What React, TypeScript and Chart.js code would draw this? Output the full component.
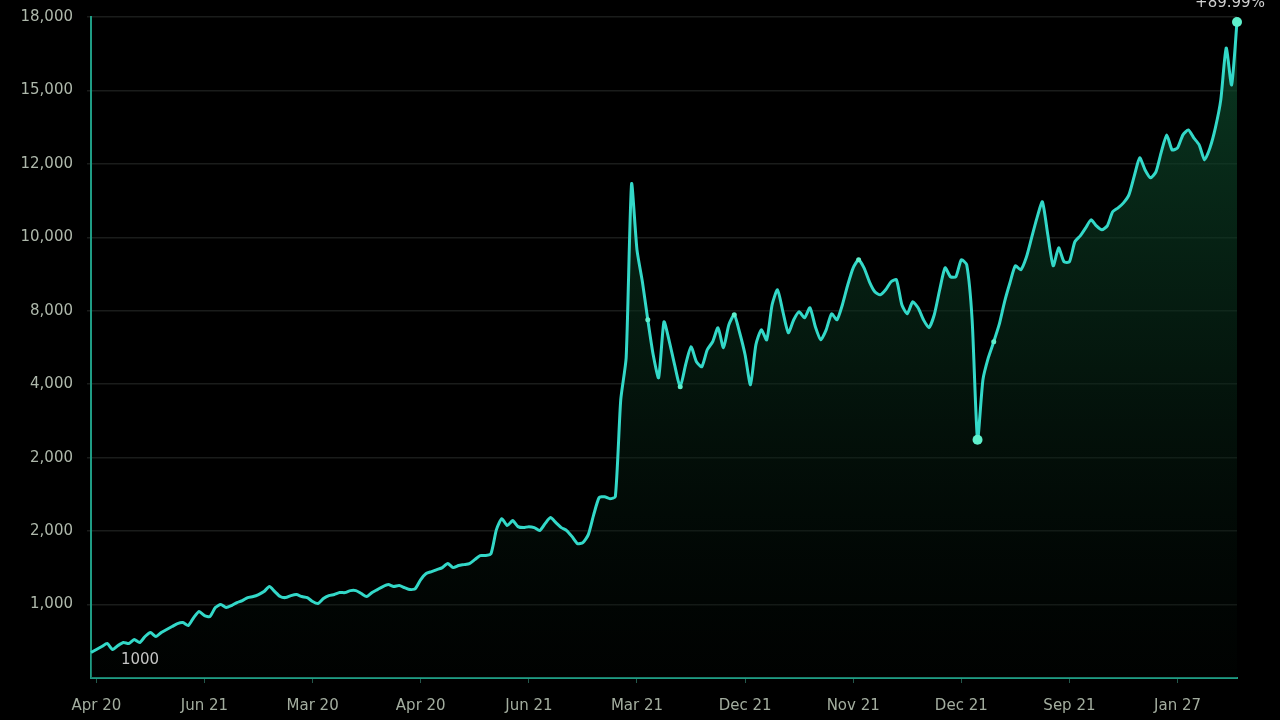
import React, { useEffect, useRef } from "react";
import { Chart, registerables } from "chart.js";

Chart.register(...registerables);

// Tick labels as printed on the chart (y levels 1..9 bottom to top)
const yTickLabels = ["1,000", "2,000", "2,000", "4,000", "8,000", "10,000", "12,000", "15,000", "18,000"];
const yTickLevels = [1, 2, 3, 4, 5, 6, 7, 8, 9];

const xTickLabels = ["Apr 20", "Jun 21", "Mar 20", "Apr 20", "Jun 21", "Mar 21", "Dec 21", "Nov 21", "Dec 21", "Sep 21", "Jan 27"];
const xTickIndex = [1, 21, 41, 61, 81, 101, 121, 141, 161, 181, 201];

// Series values (in axis level units), one per period
const seriesValues = [
  0.347, 0.388, 0.429, 0.469, 0.388, 0.442, 0.483, 0.469, 0.524, 0.483,
  0.565, 0.619, 0.565, 0.619, 0.66, 0.701, 0.741, 0.755, 0.714, 0.823,
  0.905, 0.85, 0.837, 0.959, 1.0, 0.959, 0.986, 1.027, 1.054, 1.095,
  1.109, 1.136, 1.177, 1.245, 1.177, 1.109, 1.095, 1.122, 1.136, 1.109,
  1.095, 1.041, 1.014, 1.082, 1.122, 1.136, 1.163, 1.163, 1.19, 1.19,
  1.15, 1.109, 1.163, 1.204, 1.245, 1.272, 1.245, 1.259, 1.231, 1.204,
  1.218, 1.34, 1.422, 1.449, 1.476, 1.503, 1.558, 1.503, 1.531, 1.544,
  1.558, 1.612, 1.667, 1.667, 1.694, 2.02, 2.17, 2.075, 2.143, 2.061,
  2.048, 2.061, 2.048, 2.007, 2.102, 2.184, 2.116, 2.048, 2.007, 1.925,
  1.83, 1.844, 1.952, 2.224, 2.456, 2.469, 2.442, 2.469, 3.789, 4.361,
  6.728, 5.83, 5.395, 4.878, 4.401, 4.088, 4.85, 4.578, 4.252, 3.966,
  4.265, 4.51, 4.306, 4.238, 4.469, 4.578, 4.769, 4.497, 4.81, 4.946,
  4.701, 4.401, 3.993, 4.537, 4.741, 4.605, 5.082, 5.286, 4.986, 4.701,
  4.878, 4.986, 4.905, 5.041, 4.782, 4.605, 4.741, 4.959, 4.878, 5.082,
  5.354, 5.585, 5.694, 5.585, 5.395, 5.259, 5.218, 5.286, 5.395, 5.422,
  5.082, 4.959, 5.122, 5.041, 4.878, 4.769, 4.946, 5.286, 5.585, 5.463,
  5.463, 5.694, 5.626, 4.878, 3.245, 4.061, 4.361, 4.578, 4.81, 5.122,
  5.381, 5.612, 5.558, 5.721, 5.993, 6.265, 6.483, 6.034, 5.612, 5.857,
  5.667, 5.667, 5.939, 6.02, 6.129, 6.238, 6.156, 6.102, 6.156, 6.347,
  6.401, 6.469, 6.578, 6.837, 7.082, 6.918, 6.81, 6.891, 7.163, 7.395,
  7.19, 7.218, 7.395, 7.463, 7.354, 7.259, 7.054, 7.218, 7.49, 7.871,
  8.578, 8.075, 8.932,
];

const smallDots = [103, 109, 119, 142, 167];
const bigDots = [164, seriesValues.length - 1];

const startLabel = "1000";
const endLabel = "+89.99%";

const FONT = "'DejaVu Sans', sans-serif";

export default function App() {
  const canvasRef = useRef<HTMLCanvasElement | null>(null);

  useEffect(() => {
    document.body.style.margin = "0";
    document.body.style.background = "#000";
    const canvas = canvasRef.current;
    if (!canvas) return;

    const points = seriesValues.map((v, i) => ({ x: i, y: v }));
    const radii = seriesValues.map((_, i) => (bigDots.includes(i) ? 5 : smallDots.includes(i) ? 2.5 : 0));

    const labelPlugin = {
      id: "labels",
      afterDatasetsDraw(chart: any) {
        const c = chart.ctx;
        const meta = chart.getDatasetMeta(0);
        const first = meta.data[0];
        const last = meta.data[meta.data.length - 1];
        c.save();
        c.font = `15px ${FONT}`;
        c.fillStyle = "#c4c4c4";
        c.textAlign = "center";
        c.textBaseline = "middle";
        c.fillText(startLabel, first.x + 49, first.y + 8);
        c.fillStyle = "#d0d0d0";
        c.fillText(endLabel, last.x - 7, last.y - 19);
        c.restore();
      },
    };

    const chart = new Chart(canvas, {
      type: "line",
      data: {
        datasets: [
          {
            data: points,
            borderColor: "#33d8c8",
            borderWidth: 3,
            tension: 0.2,
            pointRadius: radii,
            pointBackgroundColor: "#5ff0cc",
            pointBorderWidth: 0,
            fill: "start",
            clip: 10,
            backgroundColor: (ctx: any) => {
              const area = ctx.chart.chartArea;
              if (!area) return "rgba(10,60,35,0.4)";
              const g = ctx.chart.ctx.createLinearGradient(0, area.top, 0, area.bottom);
              g.addColorStop(0, "rgba(14,78,46,0.75)");
              g.addColorStop(0.5, "rgba(8,44,26,0.55)");
              g.addColorStop(1, "rgba(2,10,6,0.2)");
              return g;
            },
          },
        ],
      },
      options: {
        responsive: false,
        animation: false,
        devicePixelRatio: 1,
        layout: { padding: { top: 17, right: 43, left: 0, bottom: 0 } },
        plugins: { legend: { display: false }, tooltip: { enabled: false } },
        scales: {
          x: {
            type: "linear",
            min: 0,
            max: seriesValues.length - 1,
            afterBuildTicks: (s: any) => {
              s.ticks = xTickIndex.map((v) => ({ value: v }));
            },
            afterFit: (s: any) => {
              s.height = 42;
              s.paddingLeft = 0;
              s.paddingRight = 0;
            },
            ticks: {
              autoSkip: false,
              maxRotation: 0,
              padding: 14,
              color: "#a3ad9f",
              font: { family: FONT, size: 15 },
              callback: (v: any) => {
                const k = xTickIndex.indexOf(Number(v));
                return k >= 0 ? xTickLabels[k] : "";
              },
            },
            grid: { drawOnChartArea: false, tickLength: 5, color: "#24584c" },
            border: { color: "#1f9c84", width: 2 },
          },
          y: {
            type: "linear",
            min: 0,
            max: 9,
            afterBuildTicks: (s: any) => {
              s.ticks = yTickLevels.map((v) => ({ value: v }));
            },
            afterFit: (s: any) => {
              s.width = 91;
              s.paddingTop = 0;
              s.paddingBottom = 0;
            },
            ticks: {
              padding: 14,
              color: "#aeb8ab",
              font: { family: FONT, size: 15 },
              callback: (v: any) => {
                const k = yTickLevels.indexOf(Number(v));
                return k >= 0 ? yTickLabels[k] : "";
              },
            },
            grid: { color: "#1a1c1b", tickLength: 4, lineWidth: 1.5 },
            border: { color: "#1f9c84", width: 2 },
          },
        },
      },
      plugins: [labelPlugin],
    });

    return () => chart.destroy();
  }, []);

  return (
    <div style={{ width: 1280, height: 720, background: "#000" }}>
      <canvas ref={canvasRef} width={1280} height={720} style={{ display: "block" }} />
    </div>
  );
}
